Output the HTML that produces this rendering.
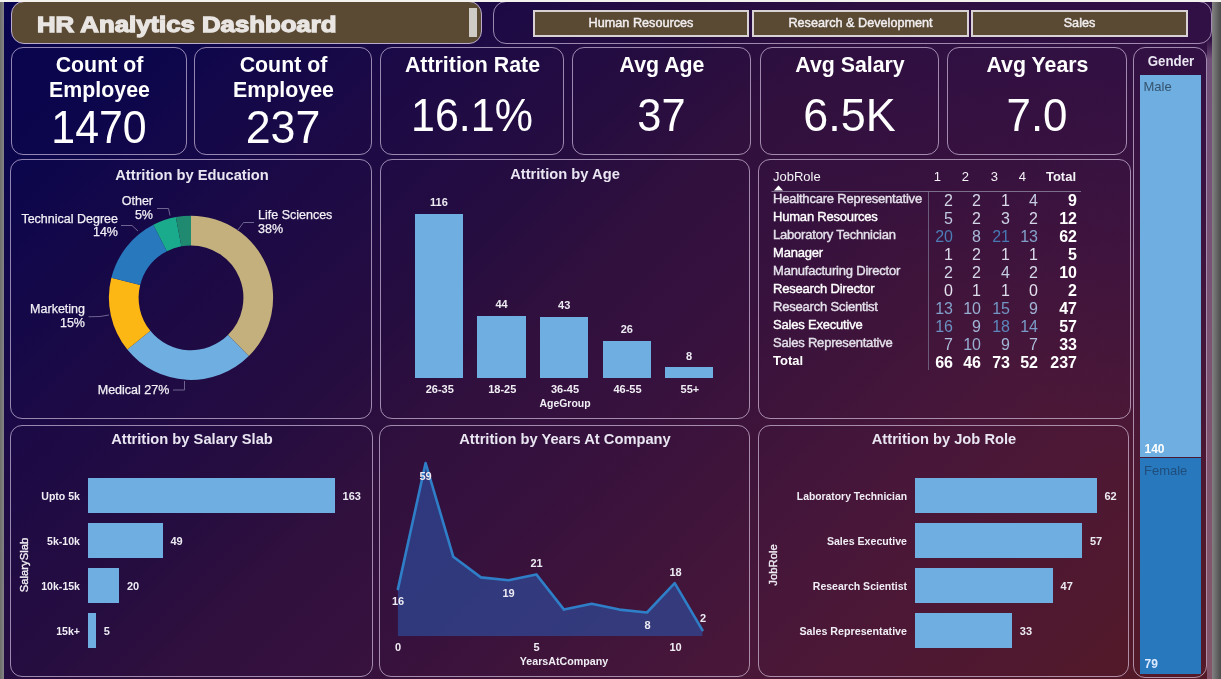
<!DOCTYPE html>
<html><head><meta charset="utf-8"><title>HR Analytics Dashboard</title>
<style>
html,body{margin:0;padding:0;}
body{width:1221px;height:679px;overflow:hidden;position:relative;background:#6b6b6b;font-family:"Liberation Sans",sans-serif;color:#fff;}
#canvas{position:absolute;left:4px;top:2px;width:1208px;height:677px;
 background:linear-gradient(225deg,rgba(35,12,78,0.55) 0%,rgba(35,12,78,0) 30%),linear-gradient(136deg,#08044d 0%,#0c064c 10%,#1d0a45 26%,#260d40 38%,#31103d 46%,#35113e 53%,#3c133b 61%,#46163a 71%,#4d1835 81%,#52192a 94%,#551a28 100%);}
#topstrip{position:absolute;left:0;top:0;width:1221px;height:2px;background:#f4f2ee;z-index:5;}
#leftstrip{position:absolute;left:0;top:2px;width:4px;height:677px;background:linear-gradient(90deg,#6d6d68,#85858a);}
#rightstrip{position:absolute;left:1212px;top:2px;width:9px;height:677px;background:linear-gradient(90deg,#828282,#4c4c4c);}
#rightband{position:absolute;left:1207px;top:40px;width:5px;height:639px;background:linear-gradient(180deg,rgba(140,110,160,.0),rgba(140,108,145,.7) 3%,rgba(150,108,130,.72));}
.p{position:absolute;box-sizing:border-box;border:1px solid rgba(245,228,255,0.58);border-radius:12px;}
.t{position:absolute;white-space:nowrap;line-height:1;}
.c{text-align:center;}
.ttl{font-weight:bold;font-size:15.4px;color:#e9e6f2;transform-origin:50% 50%;transform:scaleX(0.955);}
.card .h{position:absolute;left:0;right:0;text-align:center;font-weight:bold;font-size:21.33px;line-height:24.5px;color:#fff;}
.card .v{position:absolute;left:0;right:0;text-align:center;font-size:45.33px;line-height:46px;color:#fff;}
.btn{position:absolute;box-sizing:border-box;border:2px solid #d9d2d4;background:#5b4a33;color:#f1eef0;font-size:12.67px;text-align:center;-webkit-text-stroke:0.45px #f1eef0;}
.lbl{font-size:11px;font-weight:bold;color:#f0eef4;}
.dl{font-size:11px;font-weight:bold;color:#eceaf2;}
.bar{position:absolute;background:#6faee0;}
svg{position:absolute;left:0;top:0;overflow:visible;}
</style></head><body>
<div id="canvas"></div>
<div id="topstrip"></div><div id="leftstrip"></div><div id="rightband"></div><div id="rightstrip"></div>

<div class="p" style="left:11px;top:1px;width:471px;height:43px;background:#5b4a33;border-color:#b9accf;border-radius:13px;"></div>
<div class="t" style="left:37px;top:13.5px;font-size:22px;font-weight:bold;color:#e9e5e2;-webkit-text-stroke:1.3px #e9e5e2;transform-origin:0 50%;transform:scaleX(1.17);">HR Analytics Dashboard</div>
<div style="position:absolute;left:469px;top:8px;width:8px;height:28.5px;background:#cfcbc7;"></div>
<div class="p" style="left:493px;top:1px;width:719px;height:43px;border-radius:13px;"></div>
<div class="btn" style="left:533px;top:10px;width:216px;height:26.5px;line-height:22.5px;">Human Resources</div>
<div class="btn" style="left:752px;top:10px;width:217px;height:26.5px;line-height:22.5px;">Research &amp; Development</div>
<div class="btn" style="left:971px;top:10px;width:217px;height:26.5px;line-height:22.5px;">Sales</div>
<div class="p card" style="left:11px;top:47px;width:176px;height:108px;"><div class="h" style="top:5.3px;left:1px;">Count of<br>Employee</div><div class="v" style="top:57px;transform:scaleX(0.945);">1470</div></div>
<div class="p card" style="left:194px;top:47px;width:178px;height:108px;"><div class="h" style="top:5.3px;left:1px;">Count of<br>Employee</div><div class="v" style="top:57px;transform:scaleX(0.987);">237</div></div>
<div class="p card" style="left:380px;top:47px;width:184px;height:108px;"><div class="h" style="top:5.3px;left:1px;">Attrition Rate</div><div class="v" style="top:44.6px;transform:scaleX(0.948);">16.1%</div></div>
<div class="p card" style="left:572px;top:47px;width:179px;height:108px;"><div class="h" style="top:5.3px;left:1px;">Avg Age</div><div class="v" style="top:44.6px;transform:scaleX(0.957);">37</div></div>
<div class="p card" style="left:760px;top:47px;width:179px;height:108px;"><div class="h" style="top:5.3px;left:1px;">Avg Salary</div><div class="v" style="top:44.6px;transform:scaleX(0.99);">6.5K</div></div>
<div class="p card" style="left:947px;top:47px;width:180px;height:108px;"><div class="h" style="top:5.3px;left:1px;">Avg Years</div><div class="v" style="top:44.6px;transform:scaleX(0.968);">7.0</div></div>
<div class="p" style="left:10px;top:159px;width:362px;height:260px;"></div>
<div class="p" style="left:380px;top:159px;width:370px;height:260px;"></div>
<div class="p" style="left:758px;top:159px;width:373px;height:260px;"></div>
<div class="p" style="left:10px;top:425px;width:363px;height:252px;"></div>
<div class="p" style="left:379px;top:425px;width:370.5px;height:252px;"></div>
<div class="p" style="left:758px;top:425px;width:371px;height:252px;"></div>
<div class="p" style="left:1133px;top:47px;width:74px;height:631px;"></div>
<div class="t ttl c" style="left:41.5px;width:300px;top:167px;">Attrition by Education</div>
<div class="t ttl c" style="left:415px;width:300px;top:166px;">Attrition by Age</div>
<div class="t ttl c" style="left:42px;width:300px;top:431px;">Attrition by Salary Slab</div>
<div class="t ttl c" style="left:415px;width:300px;top:431px;">Attrition by Years At Company</div>
<div class="t ttl c" style="left:794px;width:300px;top:431px;">Attrition by Job Role</div>
<div class="t c" style="left:1134px;width:74px;top:54px;font-weight:bold;font-size:14px;color:#e9e6f2;transform:scaleX(0.95);">Gender</div>
<svg width="1221" height="679">
<path d="M191.00 215.70A82.1 82.1 0 0 1 248.86 356.05L227.93 334.97A52.4 52.4 0 0 0 191.00 245.40Z" fill="#c3b07c"/>
<path d="M248.86 356.05A82.1 82.1 0 0 1 127.30 349.59L150.34 330.86A52.4 52.4 0 0 0 227.93 334.97Z" fill="#6faee0"/>
<path d="M127.30 349.59A82.1 82.1 0 0 1 111.36 277.87L140.17 285.08A52.4 52.4 0 0 0 150.34 330.86Z" fill="#fdb714"/>
<path d="M111.36 277.87A82.1 82.1 0 0 1 153.29 224.87L166.93 251.25A52.4 52.4 0 0 0 140.17 285.08Z" fill="#2878bd"/>
<path d="M153.29 224.87A82.1 82.1 0 0 1 175.85 217.11L181.33 246.30A52.4 52.4 0 0 0 166.93 251.25Z" fill="#1aab8c"/>
<path d="M175.85 217.11A82.1 82.1 0 0 1 191.00 215.70L191.00 245.40A52.4 52.4 0 0 0 181.33 246.30Z" fill="#1f8a70"/>
<g fill="none" stroke="#6f6490" stroke-width="1">
<path d="M237.5 230.5 L243.5 222.5 L254 222.5"/>
<path d="M184.5 381 L184.5 390 L173 390"/>
<path d="M109 315 L100 316.5 L88.5 316.8"/>
<path d="M138 231 L132 225.5 L121 225.5"/>
<path d="M170 215.5 L168.5 208.5 L157 208.5"/>
</g>
<path d="M397.9 589.1 L425.6 463.0 L453.3 556.8 L480.9 577.4 L508.6 580.3 L536.3 574.4 L564.0 609.6 L591.7 603.7 L619.3 609.6 L647.0 612.5 L674.7 583.2 L702.4 630.1 L702.4 636 L397.9 636Z" fill="#2f4a98" fill-opacity="0.7"/>
<path d="M397.9 589.1 L425.6 463.0 L453.3 556.8 L480.9 577.4 L508.6 580.3 L536.3 574.4 L564.0 609.6 L591.7 603.7 L619.3 609.6 L647.0 612.5 L674.7 583.2 L702.4 630.1" fill="none" stroke="#2f7fc8" stroke-width="2.6" stroke-linejoin="round" stroke-linecap="round"/>
<path d="M771.5 191.5H1081" stroke="#7c6f8c" stroke-width="1" fill="none"/>
<path d="M928.5 192V370" stroke="#6c5c7c" stroke-width="1" fill="none"/>
<path d="M774 190.5 L778.5 185.5 L783 190.5Z" fill="#fff"/>
</svg>
<div class="t " style="left:258px;top:208.7px;font-size:12.5px;color:#f2f0f6;-webkit-text-stroke:0.25px #f2f0f6;">Life Sciences</div>
<div class="t " style="left:258px;top:222.7px;font-size:12.5px;color:#f2f0f6;-webkit-text-stroke:0.25px #f2f0f6;">38%</div>
<div class="t " style="left:-30.69999999999999px;width:200px;text-align:right;top:383.7px;font-size:12.5px;color:#f2f0f6;-webkit-text-stroke:0.25px #f2f0f6;">Medical 27%</div>
<div class="t " style="left:-115px;width:200px;text-align:right;top:302.7px;font-size:12.5px;color:#f2f0f6;-webkit-text-stroke:0.25px #f2f0f6;">Marketing</div>
<div class="t " style="left:-115px;width:200px;text-align:right;top:316.7px;font-size:12.5px;color:#f2f0f6;-webkit-text-stroke:0.25px #f2f0f6;">15%</div>
<div class="t " style="left:-82px;width:200px;text-align:right;top:212.7px;font-size:12.5px;color:#f2f0f6;-webkit-text-stroke:0.25px #f2f0f6;">Technical Degree</div>
<div class="t " style="left:-82px;width:200px;text-align:right;top:225.7px;font-size:12.5px;color:#f2f0f6;-webkit-text-stroke:0.25px #f2f0f6;">14%</div>
<div class="t " style="left:-47px;width:200px;text-align:right;top:194.7px;font-size:12.5px;color:#f2f0f6;-webkit-text-stroke:0.25px #f2f0f6;">Other</div>
<div class="t " style="left:-47px;width:200px;text-align:right;top:208.7px;font-size:12.5px;color:#f2f0f6;-webkit-text-stroke:0.25px #f2f0f6;">5%</div>
<div class="bar" style="left:414.7px;top:213.8px;width:48.5px;height:163.8px;"></div>
<div class="t dl" style="left:408.95px;width:60px;text-align:center;top:197.3px;">116</div>
<div class="t lbl" style="left:409.75px;width:60px;text-align:center;top:384.3px;">26-35</div>
<div class="bar" style="left:477px;top:315.6px;width:49.0px;height:62.0px;"></div>
<div class="t dl" style="left:471.5px;width:60px;text-align:center;top:299.1px;">44</div>
<div class="t lbl" style="left:472.3px;width:60px;text-align:center;top:384.3px;">18-25</div>
<div class="bar" style="left:540px;top:316.8px;width:48.4px;height:60.8px;"></div>
<div class="t dl" style="left:534.2px;width:60px;text-align:center;top:300.3px;">43</div>
<div class="t lbl" style="left:535.0px;width:60px;text-align:center;top:384.3px;">36-45</div>
<div class="bar" style="left:602.7px;top:340.8px;width:48.1px;height:36.8px;"></div>
<div class="t dl" style="left:596.75px;width:60px;text-align:center;top:324.3px;">26</div>
<div class="t lbl" style="left:597.55px;width:60px;text-align:center;top:384.3px;">46-55</div>
<div class="bar" style="left:665px;top:367px;width:48.2px;height:10.6px;"></div>
<div class="t dl" style="left:659.1px;width:60px;text-align:center;top:350.5px;">8</div>
<div class="t lbl" style="left:659.9px;width:60px;text-align:center;top:384.3px;">55+</div>
<div class="t lbl" style="left:515.0px;width:100px;text-align:center;top:397.7px;transform-origin:50% 50%;transform:scaleX(0.95);">AgeGroup</div>
<div class="t " style="left:773px;top:170px;font-size:13px;color:#f4f2f6;">JobRole</div>
<div class="t " style="left:927.4px;width:20px;text-align:center;top:170px;font-size:13px;color:#f4f2f6;">1</div>
<div class="t " style="left:955.4px;width:20px;text-align:center;top:170px;font-size:13px;color:#f4f2f6;">2</div>
<div class="t " style="left:984.4px;width:20px;text-align:center;top:170px;font-size:13px;color:#f4f2f6;">3</div>
<div class="t " style="left:1012.4px;width:20px;text-align:center;top:170px;font-size:13px;color:#f4f2f6;">4</div>
<div class="t " style="left:1016px;width:60px;text-align:right;top:170px;font-size:13px;color:#f4f2f6;font-weight:bold;">Total</div>
<div class="t " style="left:773px;top:191.8px;font-size:13px;color:#e4e0ea;-webkit-text-stroke:0.4px #e4e0ea;letter-spacing:-0.2px;">Healthcare Representative</div>
<div class="t " style="left:913px;width:40px;text-align:right;top:193px;font-size:16px;color:#d4d7e8;">2</div>
<div class="t " style="left:941px;width:40px;text-align:right;top:193px;font-size:16px;color:#d4d7e8;">2</div>
<div class="t " style="left:970px;width:40px;text-align:right;top:193px;font-size:16px;color:#dcdceb;">1</div>
<div class="t " style="left:998px;width:40px;text-align:right;top:193px;font-size:16px;color:#c5cde2;">4</div>
<div class="t " style="left:1027px;width:50px;text-align:right;top:193px;font-size:16px;font-weight:bold;color:#fff;">9</div>
<div class="t " style="left:773px;top:209.8px;font-size:13px;color:#ffffff;-webkit-text-stroke:0.4px #ffffff;letter-spacing:-0.2px;">Human Resources</div>
<div class="t " style="left:913px;width:40px;text-align:right;top:211px;font-size:16px;color:#bec8e0;">5</div>
<div class="t " style="left:941px;width:40px;text-align:right;top:211px;font-size:16px;color:#d4d7e8;">2</div>
<div class="t " style="left:970px;width:40px;text-align:right;top:211px;font-size:16px;color:#cdd2e5;">3</div>
<div class="t " style="left:998px;width:40px;text-align:right;top:211px;font-size:16px;color:#d4d7e8;">2</div>
<div class="t " style="left:1027px;width:50px;text-align:right;top:211px;font-size:16px;font-weight:bold;color:#fff;">12</div>
<div class="t " style="left:773px;top:227.8px;font-size:13px;color:#e4e0ea;-webkit-text-stroke:0.4px #e4e0ea;letter-spacing:-0.2px;">Laboratory Technician</div>
<div class="t " style="left:913px;width:40px;text-align:right;top:229px;font-size:16px;color:#4d7db6;">20</div>
<div class="t " style="left:941px;width:40px;text-align:right;top:229px;font-size:16px;color:#a7b9d7;">8</div>
<div class="t " style="left:970px;width:40px;text-align:right;top:229px;font-size:16px;color:#4678b4;">21</div>
<div class="t " style="left:998px;width:40px;text-align:right;top:229px;font-size:16px;color:#82a0ca;">13</div>
<div class="t " style="left:1027px;width:50px;text-align:right;top:229px;font-size:16px;font-weight:bold;color:#fff;">62</div>
<div class="t " style="left:773px;top:245.8px;font-size:13px;color:#ffffff;-webkit-text-stroke:0.4px #ffffff;letter-spacing:-0.2px;">Manager</div>
<div class="t " style="left:913px;width:40px;text-align:right;top:247px;font-size:16px;color:#dcdceb;">1</div>
<div class="t " style="left:941px;width:40px;text-align:right;top:247px;font-size:16px;color:#d4d7e8;">2</div>
<div class="t " style="left:970px;width:40px;text-align:right;top:247px;font-size:16px;color:#dcdceb;">1</div>
<div class="t " style="left:998px;width:40px;text-align:right;top:247px;font-size:16px;color:#dcdceb;">1</div>
<div class="t " style="left:1027px;width:50px;text-align:right;top:247px;font-size:16px;font-weight:bold;color:#fff;">5</div>
<div class="t " style="left:773px;top:263.8px;font-size:13px;color:#e4e0ea;-webkit-text-stroke:0.4px #e4e0ea;letter-spacing:-0.2px;">Manufacturing Director</div>
<div class="t " style="left:913px;width:40px;text-align:right;top:265px;font-size:16px;color:#d4d7e8;">2</div>
<div class="t " style="left:941px;width:40px;text-align:right;top:265px;font-size:16px;color:#d4d7e8;">2</div>
<div class="t " style="left:970px;width:40px;text-align:right;top:265px;font-size:16px;color:#c5cde2;">4</div>
<div class="t " style="left:998px;width:40px;text-align:right;top:265px;font-size:16px;color:#d4d7e8;">2</div>
<div class="t " style="left:1027px;width:50px;text-align:right;top:265px;font-size:16px;font-weight:bold;color:#fff;">10</div>
<div class="t " style="left:773px;top:281.8px;font-size:13px;color:#ffffff;-webkit-text-stroke:0.4px #ffffff;letter-spacing:-0.2px;">Research Director</div>
<div class="t " style="left:913px;width:40px;text-align:right;top:283px;font-size:16px;color:#e4e2ee;">0</div>
<div class="t " style="left:941px;width:40px;text-align:right;top:283px;font-size:16px;color:#dcdceb;">1</div>
<div class="t " style="left:970px;width:40px;text-align:right;top:283px;font-size:16px;color:#dcdceb;">1</div>
<div class="t " style="left:998px;width:40px;text-align:right;top:283px;font-size:16px;color:#e4e2ee;">0</div>
<div class="t " style="left:1027px;width:50px;text-align:right;top:283px;font-size:16px;font-weight:bold;color:#fff;">2</div>
<div class="t " style="left:773px;top:299.8px;font-size:13px;color:#e4e0ea;-webkit-text-stroke:0.4px #e4e0ea;letter-spacing:-0.2px;">Research Scientist</div>
<div class="t " style="left:913px;width:40px;text-align:right;top:301px;font-size:16px;color:#82a0ca;">13</div>
<div class="t " style="left:941px;width:40px;text-align:right;top:301px;font-size:16px;color:#98afd2;">10</div>
<div class="t " style="left:970px;width:40px;text-align:right;top:301px;font-size:16px;color:#7396c4;">15</div>
<div class="t " style="left:998px;width:40px;text-align:right;top:301px;font-size:16px;color:#a0b4d5;">9</div>
<div class="t " style="left:1027px;width:50px;text-align:right;top:301px;font-size:16px;font-weight:bold;color:#fff;">47</div>
<div class="t " style="left:773px;top:317.8px;font-size:13px;color:#ffffff;-webkit-text-stroke:0.4px #ffffff;letter-spacing:-0.2px;">Sales Executive</div>
<div class="t " style="left:913px;width:40px;text-align:right;top:319px;font-size:16px;color:#6b91c1;">16</div>
<div class="t " style="left:941px;width:40px;text-align:right;top:319px;font-size:16px;color:#a0b4d5;">9</div>
<div class="t " style="left:970px;width:40px;text-align:right;top:319px;font-size:16px;color:#5c87bc;">18</div>
<div class="t " style="left:998px;width:40px;text-align:right;top:319px;font-size:16px;color:#7a9bc7;">14</div>
<div class="t " style="left:1027px;width:50px;text-align:right;top:319px;font-size:16px;font-weight:bold;color:#fff;">57</div>
<div class="t " style="left:773px;top:335.8px;font-size:13px;color:#e4e0ea;-webkit-text-stroke:0.4px #e4e0ea;letter-spacing:-0.2px;">Sales Representative</div>
<div class="t " style="left:913px;width:40px;text-align:right;top:337px;font-size:16px;color:#afbeda;">7</div>
<div class="t " style="left:941px;width:40px;text-align:right;top:337px;font-size:16px;color:#98afd2;">10</div>
<div class="t " style="left:970px;width:40px;text-align:right;top:337px;font-size:16px;color:#a0b4d5;">9</div>
<div class="t " style="left:998px;width:40px;text-align:right;top:337px;font-size:16px;color:#afbeda;">7</div>
<div class="t " style="left:1027px;width:50px;text-align:right;top:337px;font-size:16px;font-weight:bold;color:#fff;">33</div>
<div class="t " style="left:773px;top:353.8px;font-size:13px;font-weight:bold;color:#fff;">Total</div>
<div class="t " style="left:913px;width:40px;text-align:right;top:355px;font-size:16px;font-weight:bold;color:#fff;">66</div>
<div class="t " style="left:941px;width:40px;text-align:right;top:355px;font-size:16px;font-weight:bold;color:#fff;">46</div>
<div class="t " style="left:970px;width:40px;text-align:right;top:355px;font-size:16px;font-weight:bold;color:#fff;">73</div>
<div class="t " style="left:998px;width:40px;text-align:right;top:355px;font-size:16px;font-weight:bold;color:#fff;">52</div>
<div class="t " style="left:1027px;width:50px;text-align:right;top:355px;font-size:16px;font-weight:bold;color:#fff;">237</div>
<div class="bar" style="left:88px;top:478px;width:246.6px;height:35px;"></div>
<div class="t lbl" style="left:-20px;width:100px;text-align:right;top:491px;transform-origin:100% 50%;transform:scaleX(0.96);">Upto 5k</div>
<div class="t dl" style="left:342.6px;top:490.7px;">163</div>
<div class="bar" style="left:88px;top:523px;width:74.5px;height:35px;"></div>
<div class="t lbl" style="left:-20px;width:100px;text-align:right;top:536px;transform-origin:100% 50%;transform:scaleX(0.96);">5k-10k</div>
<div class="t dl" style="left:170.5px;top:535.7px;">49</div>
<div class="bar" style="left:88px;top:568px;width:31.0px;height:35px;"></div>
<div class="t lbl" style="left:-20px;width:100px;text-align:right;top:581px;transform-origin:100% 50%;transform:scaleX(0.96);">10k-15k</div>
<div class="t dl" style="left:127px;top:580.7px;">20</div>
<div class="bar" style="left:88px;top:613px;width:7.8px;height:35px;"></div>
<div class="t lbl" style="left:-20px;width:100px;text-align:right;top:626px;transform-origin:100% 50%;transform:scaleX(0.96);">15k+</div>
<div class="t dl" style="left:103.8px;top:625.7px;">5</div>
<div class="t lbl" style="left:24.3px;top:564.7px;transform:translate(-50%,-50%) rotate(-90deg) scaleX(1.02);font-weight:normal;-webkit-text-stroke:0.35px #f0eef4;">SalarySlab</div>
<div class="bar" style="left:915px;top:478px;width:181.5px;height:35px;"></div>
<div class="t lbl" style="left:707px;width:200px;text-align:right;top:491px;transform-origin:100% 50%;transform:scaleX(0.94);">Laboratory Technician</div>
<div class="t dl" style="left:1104.5px;top:490.7px;">62</div>
<div class="bar" style="left:915px;top:523px;width:167.0px;height:35px;"></div>
<div class="t lbl" style="left:707px;width:200px;text-align:right;top:536px;transform-origin:100% 50%;transform:scaleX(0.963);">Sales Executive</div>
<div class="t dl" style="left:1090px;top:535.7px;">57</div>
<div class="bar" style="left:915px;top:568px;width:137.6px;height:35px;"></div>
<div class="t lbl" style="left:707px;width:200px;text-align:right;top:581px;transform-origin:100% 50%;transform:scaleX(0.957);">Research Scientist</div>
<div class="t dl" style="left:1060.6px;top:580.7px;">47</div>
<div class="bar" style="left:915px;top:613px;width:96.8px;height:35px;"></div>
<div class="t lbl" style="left:707px;width:200px;text-align:right;top:626px;transform-origin:100% 50%;transform:scaleX(0.972);">Sales Representative</div>
<div class="t dl" style="left:1019.8px;top:625.7px;">33</div>
<div class="t lbl" style="left:772.5px;top:565.3px;transform:translate(-50%,-50%) rotate(-90deg) scaleX(1.03);font-weight:normal;-webkit-text-stroke:0.35px #f0eef4;">JobRole</div>
<div class="t dl" style="left:378.0px;width:40px;text-align:center;top:596px;">16</div>
<div class="t dl" style="left:405.5px;width:40px;text-align:center;top:471px;">59</div>
<div class="t dl" style="left:488.5px;width:40px;text-align:center;top:588.3px;">19</div>
<div class="t dl" style="left:516.5px;width:40px;text-align:center;top:558.3px;">21</div>
<div class="t dl" style="left:627.5px;width:40px;text-align:center;top:620px;">8</div>
<div class="t dl" style="left:655.5px;width:40px;text-align:center;top:567.3px;">18</div>
<div class="t dl" style="left:683.0px;width:40px;text-align:center;top:613px;">2</div>
<div class="t lbl" style="left:378.0px;width:40px;text-align:center;top:642px;">0</div>
<div class="t lbl" style="left:516.5px;width:40px;text-align:center;top:642px;">5</div>
<div class="t lbl" style="left:655.5px;width:40px;text-align:center;top:642px;">10</div>
<div class="t lbl" style="left:484.0px;width:160px;text-align:center;top:656px;transform-origin:50% 50%;transform:scaleX(0.97);">YearsAtCompany</div>
<div style="position:absolute;left:1140px;top:75px;width:61px;height:382.3px;background:#6faee0;"></div>
<div style="position:absolute;left:1140px;top:458px;width:61px;height:216px;background:#2878bd;"></div>
<div class="t " style="left:1143.5px;top:80px;font-size:13px;color:#34536f;">Male</div>
<div class="t " style="left:1144.5px;top:442.6px;font-size:12px;font-weight:bold;color:#fff;">140</div>
<div class="t " style="left:1144px;top:463.8px;font-size:13px;color:#1f4d7c;">Female</div>
<div class="t " style="left:1144.5px;top:658px;font-size:12px;font-weight:bold;color:#dceaff;">79</div>
</body></html>
